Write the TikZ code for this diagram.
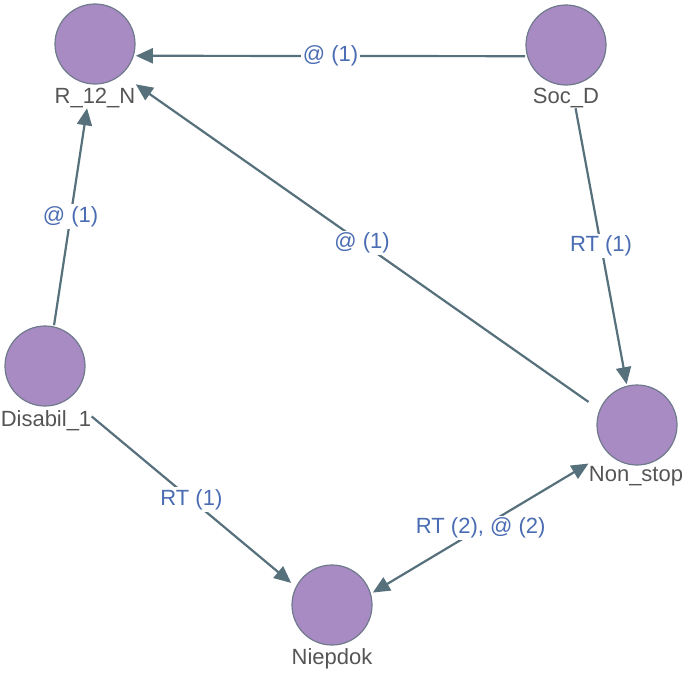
\documentclass[tikz,border=0pt]{standalone}
\usepackage{fontspec}
\setmainfont{Liberation Sans}
\usetikzlibrary{arrows.meta,fit}
\definecolor{nodefill}{HTML}{A78BC2}
\definecolor{nodeedge}{HTML}{6F7A8C}
\definecolor{labgray}{HTML}{555555}
\definecolor{edgecol}{HTML}{56707C}
\definecolor{elabcol}{HTML}{4A6CB3}
\tikzset{
  vcirc/.style={circle, fill=nodefill, draw=nodeedge, line width=1.2pt, minimum size=80pt, inner sep=0pt},
  vlab/.style={text=labgray, font=\fontsize{22}{22}\selectfont, inner sep=0pt},
  vbox/.style={inner sep=0pt, draw=none},
  edge/.style={draw=edgecol, line width=2.2pt, -{Triangle[length=17pt,width=15pt]}},
  biedge/.style={draw=edgecol, line width=2.2pt, {Triangle[length=17pt,width=15pt]}-{Triangle[length=17pt,width=15pt]}},
  elab/.style={fill=white, text=elabcol, font=\fontsize{22}{22}\selectfont, inner sep=2pt}
}
\begin{document}
\begin{tikzpicture}[x=1pt,y=-1pt]
\useasboundingbox (0,0) rectangle (685,672);
% circles
\node[vcirc] (rc) at (95,44) {};
\node[vcirc] (sc) at (566,45) {};
\node[vcirc] (dc) at (45,366) {};
\node[vcirc] (nc) at (637,425) {};
\node[vcirc] (pc) at (332,605) {};
% labels
\node[vlab] (rl) at (95,98) {R\_12\_N};
\node[vlab] (sl) at (566,98) {Soc\_D};
\node[vlab] (dl) at (46,421) {Disabil\_1};
\node[vlab] (nl) at (636,476) {Non\_stop};
\node[vlab] (pl) at (332,659) {Niepdok};
% combined boxes
\node[vbox, fit=(rc)(rl)] (R) {};
\node[vbox, fit=(sc)(sl)] (S) {};
\node[vbox, fit=(dc)(dl)] (D) {};
\node[vbox, fit=(nc)(nl)] (N) {};
\node[vbox, fit=(pc)(pl)] (P) {};
% edges
\draw[edge] (S) -- node[elab] (e1) {@ (1)} (R);
\draw[edge] (N) -- node[elab] (e2) {@ (1)} (R);
\draw[edge] (D) -- node[elab] (e3) {@ (1)} (R);
\draw[edge] (S) -- node[elab] (e4) {RT (1)} (N);
\draw[edge] (D) -- node[elab] (e5) {RT (1)} (P);
\draw[biedge] (P) -- node[elab] (e6) {RT (2), @ (2)} (N);
\end{tikzpicture}
\end{document}
